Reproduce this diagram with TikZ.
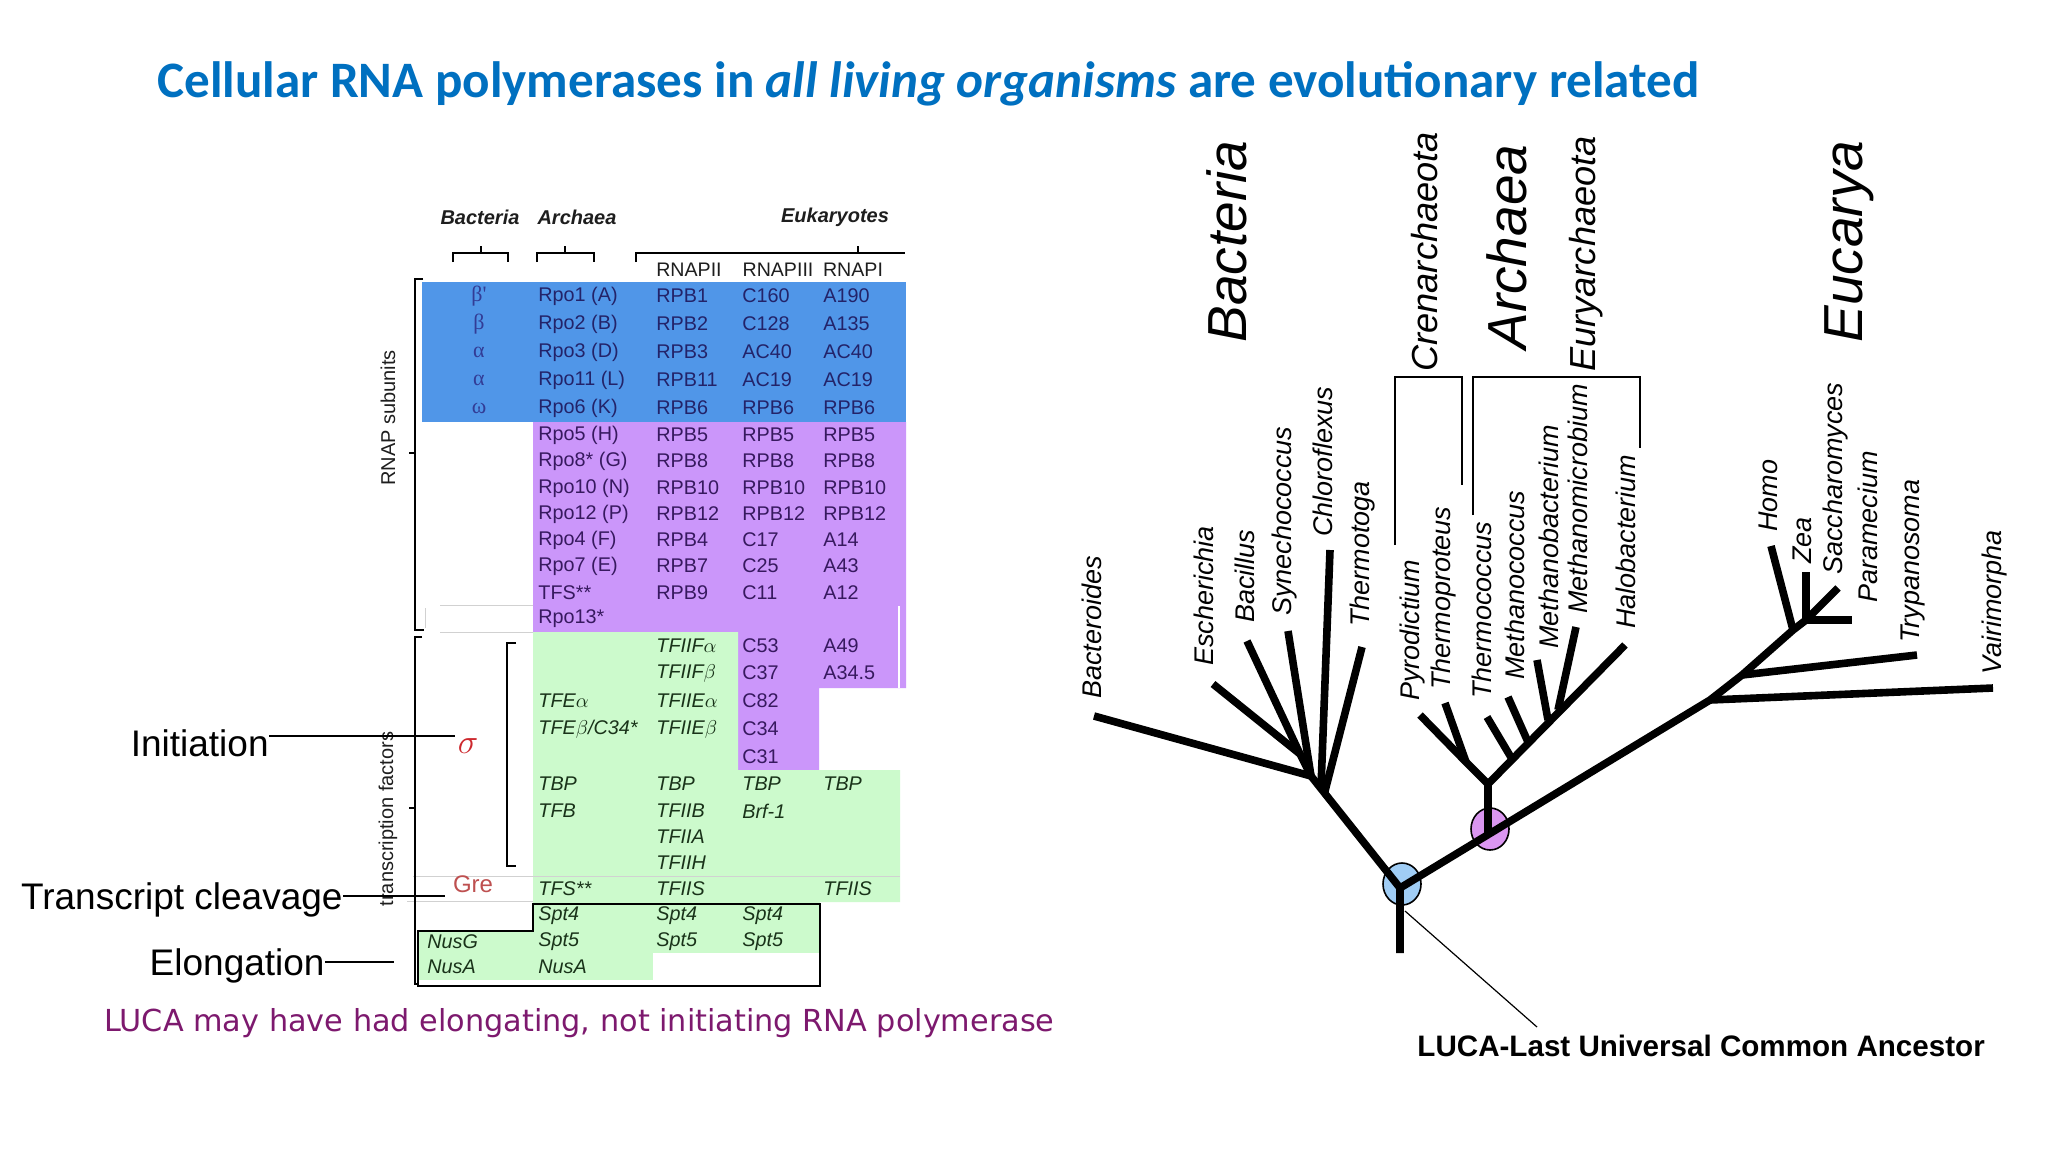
\documentclass[tikz,border=0pt]{standalone}
\usepackage{graphicx}
\usepackage{fontspec}
\setmainfont{Liberation Sans}
\setsansfont{Liberation Sans}
\newfontfamily\titlefont{Carlito}
\newfontfamily\grfont{Liberation Serif}
\newfontfamily\handfont{DejaVu Sans}
\usetikzlibrary{shapes.geometric}
\newcommand\fsz[1]{\fontsize{#1}{#1}\selectfont}
\definecolor{titleblue}{RGB}{0,112,192}
\definecolor{bluebg}{RGB}{80,150,232}
\definecolor{purplebg}{RGB}{203,150,250}
\definecolor{greenbg}{RGB}{204,250,204}
\definecolor{navytext}{RGB}{35,35,105}
\definecolor{purpletext}{RGB}{55,25,95}
\definecolor{greentext}{RGB}{25,50,25}
\definecolor{greekblue}{RGB}{50,60,150}
\definecolor{hdrtext}{RGB}{30,30,30}
\definecolor{sigred}{RGB}{205,40,45}
\definecolor{grered}{RGB}{190,80,80}
\definecolor{lucamag}{RGB}{125,25,110}
\definecolor{lucablue}{RGB}{160,205,245}
\definecolor{archpurple}{RGB}{218,150,240}
\tikzset{
 cell/.style={anchor=west, inner sep=0pt, font=\fsz{9.9}},
 bc/.style={cell, text=navytext},
 pc/.style={cell, text=purpletext},
 gc/.style={cell, text=greentext, font=\fsz{9.9}\itshape},
 hdr/.style={inner sep=0pt, font=\fsz{10}\bfseries\itshape, text=hdrtext},
 colh/.style={inner sep=0pt, font=\fsz{9.8}, text=hdrtext},
 grk/.style={inner sep=0pt, font=\grfont\fsz{11}, text=greekblue},
 brk/.style={line width=0.8pt, black},
 faint/.style={line width=0.5pt, black!18},
 lbl/.style={line width=0.8pt, black},
 sidelab/.style={inner sep=0pt, font=\fsz{18.5}, anchor=east},
 vlab/.style={inner sep=0pt, rotate=90, font=\fsz{10}, text=hdrtext},
 branchline/.style={line width=3.8pt, line cap=butt, line join=round},
 taxonlab/.style={rotate=90, anchor=west, inner sep=0pt, font=\fsz{13.5}\itshape},
 domlab/.style={rotate=90, anchor=west, inner sep=0pt, font=\fsz{27.5}\itshape},
 phylumlab/.style={rotate=90, anchor=west, inner sep=0pt, font=\fsz{18.1}\itshape},
 tbrk/.style={line width=1.3pt, line cap=butt},
 nodedisc/.style={ellipse, draw, line width=0.8pt, inner sep=0pt, minimum width=19pt, minimum height=21pt},
}
\begin{document}
\begin{tikzpicture}[x=0.5pt,y=-0.5pt]
\useasboundingbox (0,0) rectangle (2048,1152);
\fill[white] (0,0) rectangle (2048,1152);

% ---------- title
\node[anchor=base west, inner sep=0pt, text=titleblue, font=\titlefont\bfseries\fsz{25.55}] (title) at (157,97)
  {Cellular RNA polymerases in \textit{all living organisms} are evolutionary related};

% ---------- table backgrounds
\fill[bluebg] (422,282) rectangle (906,422);
\fill[purplebg] (533,422) -- (906,422) -- (906,688) -- (819,688) -- (819,770) -- (738,770) -- (738,632) -- (533,632) -- cycle;
\fill[greenbg] (533,632) -- (738,632) -- (738,770) -- (900,770) -- (900,902) -- (533,902) -- cycle;
\fill[greenbg] (533,902) rectangle (820,953);
\fill[greenbg] (419,931) rectangle (653,980);
\draw[white, line width=0.8pt] (899,606) -- (899,688);
\draw[line width=0.7pt] (533,904) -- (820,904) -- (820,986) -- (418,986) -- (418,931) -- (533,931) -- cycle;

% faint rules
\draw[faint] (440,605) -- (533,605);
\draw[faint] (440,632) -- (533,632);
\draw[faint] (413,876) -- (900,876);
\draw[faint] (407,901) -- (533,901);
\draw[faint] (425,608) -- (425,628);

% ---------- column headers
\node[hdr] (hBac) at (480,217) {Bacteria};
\node[hdr] (hArc) at (577,217) {Archaea};
\node[hdr] (hEuk) at (835,217) {Eukaryotes};
\draw[brk] (453,262) -- (453,253) -- (508,253) -- (508,262);
\draw[brk] (481,253) -- (481,246);
\draw[brk] (537,262) -- (537,253) -- (594,253) -- (594,262);
\draw[brk] (565,253) -- (565,246);
\draw[brk] (636,262) -- (636,253) -- (905,253);
\draw[brk] (858,253) -- (858,246);
\node[colh] (cII) at (689,270) {RNAPII};
\node[colh] (cIII) at (778,270) {RNAPIII};
\node[colh] (cI) at (853,270) {RNAPI};

% ---------- blue rows
\foreach \yy/\g/\ar/\pa/\pb/\pc [count=\i] in {296/β'/Rpo1 (A)/RPB1/C160/A190, 324/β/Rpo2 (B)/RPB2/C128/A135, 352/α/Rpo3 (D)/RPB3/AC40/AC40, 380/α/Rpo11 (L)/RPB11/AC19/AC19, 408/ω/Rpo6 (K)/RPB6/RPB6/RPB6}{
  \node[grk] (gk\i) at (479,\yy) {\g};
  \node[bc] (ba\i) at (538,\yy) {\ar};
  \node[bc] (bb\i) at (656,\yy) {\pa};
  \node[bc] (bcc\i) at (742,\yy) {\pb};
  \node[bc] (bd\i) at (823,\yy) {\pc};
}
% ---------- purple rows
\foreach \yy/\ar/\pa/\pb/\pc [count=\i] in {435/Rpo5 (H)/RPB5/RPB5/RPB5, 461/Rpo8* (G)/RPB8/RPB8/RPB8, 488/Rpo10 (N)/RPB10/RPB10/RPB10, 514/Rpo12 (P)/RPB12/RPB12/RPB12, 540/Rpo4 (F)/RPB4/C17/A14, 566/Rpo7 (E)/RPB7/C25/A43, 593/TFS**/RPB9/C11/A12}{
  \node[pc] (pa\i) at (538,\yy) {\ar};
  \node[pc] (pb\i) at (656,\yy) {\pa};
  \node[pc] (pcc\i) at (742,\yy) {\pb};
  \node[pc] (pd\i) at (823,\yy) {\pc};
}
\node[pc] (rpo13) at (538,619) {Rpo13*};
\foreach \yy/\t [count=\i] in {646/C53, 673/C37, 701/C82, 729/C34, 757/C31}{
  \node[pc] (pC\i) at (742,\yy) {\t};
}
\node[pc] (pA49) at (823,646) {A49};
\node[pc] (pA345) at (823,673) {A34.5};

% ---------- green (italic) cells
\node[gc] (gTFEa) at (538,701) {TFE$\alpha$};
\node[gc] (gTFEb) at (538,729) {TFE$\beta$/C34*};
\foreach \yy/\t [count=\i] in {784/TBP, 811/TFB, 889/TFS**, 916/Spt4, 942/Spt5, 967/NusA}{
  \node[gc] (gA\i) at (538,\yy) {\t};
}
\foreach \yy/\t [count=\i] in {646/TFIIF$\alpha$, 673/TFIIF$\beta$, 701/TFIIE$\alpha$, 729/TFIIE$\beta$, 784/TBP, 811/TFIIB, 837/TFIIA, 863/TFIIH, 889/TFIIS, 916/Spt4, 942/Spt5}{
  \node[gc] (gB\i) at (656,\yy) {\t};
}
\foreach \yy/\t [count=\i] in {784/TBP, 811/Brf-1, 916/Spt4, 942/Spt5}{
  \node[gc] (gC\i) at (742,\yy) {\t};
}
\node[gc] (gD1) at (823,784) {TBP};
\node[gc] (gD2) at (823,889) {TFIIS};
\node[gc] (nusG) at (427,942) {NusG};
\node[gc] (nusA) at (427,967) {NusA};

% ---------- left brackets and labels
\draw[brk] (423,279) -- (415,279) -- (415,630) -- (424,630);
\draw[brk] (415,453) -- (409,453);
\draw[brk] (422,637) -- (415,637) -- (415,984) -- (419,984);
\draw[brk] (415,808) -- (409,808);
\draw[brk] (516,643) -- (507,643) -- (507,866) -- (516,866);
\node[vlab] (rnapsub) at (388,418) {RNAP subunits};
\node[vlab] (tfac) at (388,819) {transcription factors};

\node[inner sep=0pt, text=sigred, font=\fsz{18}] (sig) at (468,746) {$\sigma$};
\node[inner sep=0pt, text=grered, font=\fsz{12}] (gre) at (473,884) {Gre};
\node[sidelab] (init) at (269,743) {Initiation};
\node[sidelab] (tclv) at (343,900) {Transcript cleavage};
\node[sidelab] (elong) at (325,966) {Elongation};
\coordinate (elongEnd) at (394,962);
\draw[lbl] ([yshift=3.5pt]init.east) -- ([xshift=-1pt,yshift=5pt]sig.west);
\draw[lbl] ([yshift=2pt]tclv.east) -- ([xshift=-4pt,yshift=-6pt]gre.west);
\draw[lbl] ([yshift=2pt]elong.east) -- (elongEnd);

% ---------- bottom note
\node[anchor=base west, inner sep=0pt, text=lucamag] (note) at (104,1031)
  {\resizebox{475pt}{!}{\handfont\fsz{15}LUCA may have had elongating, not initiating RNA polymerase}};

% ---------- tree: coordinates
\coordinate (luca) at (1400,888);
\coordinate (rootend) at (1400,953);
\coordinate (b0) at (1311,776);
\coordinate (bEB) at (1300,754);
\coordinate (bChl) at (1321,787);
\coordinate (bTmt) at (1325,791);
\coordinate (tBacteroides) at (1094,716);
\coordinate (tEscherichia) at (1213,684);
\coordinate (tBacillus) at (1247,641);
\coordinate (tSynechococcus) at (1288,631);
\coordinate (tChloroflexus) at (1330,550);
\coordinate (tThermotoga) at (1362,647);

\coordinate (astem) at (1488,835);
\coordinate (aj) at (1488,784);
\coordinate (cj) at (1466,762);
\coordinate (tPyrodictium) at (1420,715);
\coordinate (tThermoproteus) at (1445,703);
\coordinate (tHalobacterium) at (1625,645);
\coordinate (e1) at (1512,759);
\coordinate (e2) at (1528,742);
\coordinate (e3) at (1548,720);
\coordinate (e4) at (1558,710);
\coordinate (tThermococcus) at (1487,717);
\coordinate (tMethanococcus) at (1508,697);
\coordinate (tMethanobacterium) at (1537,660);
\coordinate (tMethanomicrobium) at (1576,627);

\coordinate (vj) at (1710,700);
\coordinate (trj) at (1742,675);
\coordinate (hj) at (1793,630);
\coordinate (zj) at (1806,620);
\coordinate (tVairimorpha) at (1993,688);
\coordinate (tTrypanosoma) at (1917,655);
\coordinate (tHomo) at (1771,546);
\coordinate (tZea) at (1806,572);
\coordinate (tSaccharomyces) at (1838,588);
\coordinate (tParamecium) at (1852,620);

% circles
\node[nodedisc, fill=lucablue] (lucaDot) at (1402,884) {};
\node[nodedisc, fill=archpurple] (archDot) at (1490,829) {};

% branches
\draw[branchline] (rootend) -- (luca) -- (b0);
\draw[branchline] (b0) -- (tBacteroides);
\draw[branchline] (b0) -- (bEB) -- (tEscherichia);
\draw[branchline] (bEB) -- (tBacillus);
\draw[branchline] (b0) -- (tSynechococcus);
\draw[branchline] (bChl) -- (tChloroflexus);
\draw[branchline] (bTmt) -- (tThermotoga);

\draw[branchline] (astem) -- (aj) -- (cj) -- (tPyrodictium);
\draw[branchline] (cj) -- (tThermoproteus);
\draw[branchline] (aj) -- (tHalobacterium);
\draw[branchline] (e1) -- (tThermococcus);
\draw[branchline] (e2) -- (tMethanococcus);
\draw[branchline] (e3) -- (tMethanobacterium);
\draw[branchline] (e4) -- (tMethanomicrobium);

\draw[branchline] (luca) -- (vj) -- (trj) -- (hj) -- (zj) -- (tSaccharomyces);
\draw[branchline] (vj) -- (tVairimorpha);
\draw[branchline] (trj) -- (tTrypanosoma);
\draw[branchline] (hj) -- (tHomo);
\draw[branchline] (zj) -- (tZea);
\draw[branchline] (zj) -- (tParamecium);

% group brackets
\draw[tbrk] (1395,545) -- (1395,377) -- (1462,377) -- (1462,485);
\draw[tbrk] (1473,515) -- (1473,377) -- (1640,377) -- (1640,448);

% labels
\node[domlab] (dBac) at (1227,343) {Bacteria};
\node[domlab] (dArc) at (1507,350) {Archaea};
\node[domlab] (dEuc) at (1849,343) {Eucarya};
\node[phylumlab] (pCren) at (1425,372) {Crenarchaeota};
\node[phylumlab] (pEury) at (1586,372) {Euryarchaeota};

\node[taxonlab] (nBacteroides) at (1092,699) {Bacteroides};
\node[taxonlab] (nEscherichia) at (1204,666) {Escherichia};
\node[taxonlab] (nBacillus) at (1245,623) {Bacillus};
\node[taxonlab] (nSynechococcus) at (1284,616) {Synechococcus};
\node[taxonlab] (nChloroflexus) at (1323,537) {Chloroflexus};
\node[taxonlab] (nThermotoga) at (1362,627) {Thermotoga};
\node[taxonlab] (nPyrodictium) at (1412,701) {Pyrodictium};
\node[taxonlab] (nThermoproteus) at (1443,690) {Thermoproteus};
\node[taxonlab] (nThermococcus) at (1482,699) {Thermococcus};
\node[taxonlab] (nMethanococcus) at (1515,680) {Methanococcus};
\node[taxonlab] (nMethanobacterium) at (1549,649) {Methanobacterium};
\node[taxonlab] (nMethanomicrobium) at (1578,614) {Methanomicrobium};
\node[taxonlab] (nHalobacterium) at (1626,629) {Halobacterium};
\node[taxonlab] (nHomo) at (1768,532) {Homo};
\node[taxonlab] (nZea) at (1802,564) {Zea};
\node[taxonlab] (nSaccharomyces) at (1835,575) {Saccharomyces};
\node[taxonlab] (nParamecium) at (1868,603) {Paramecium};
\node[taxonlab] (nTrypanosoma) at (1913,643) {Trypanosoma};
\node[taxonlab] (nVairimorpha) at (1994,675) {Vairimorpha};

% LUCA pointer
\node[anchor=base west, inner sep=0pt, font=\fsz{14.8}\bfseries] (lucaText) at (1417,1056) {LUCA-Last Universal Common Ancestor};
\coordinate (ptrStart) at (1405,911);
\coordinate (ptrEnd) at (1537,1027);
\draw[line width=0.6pt] (ptrStart) -- (ptrEnd);
\end{tikzpicture}
\end{document}
